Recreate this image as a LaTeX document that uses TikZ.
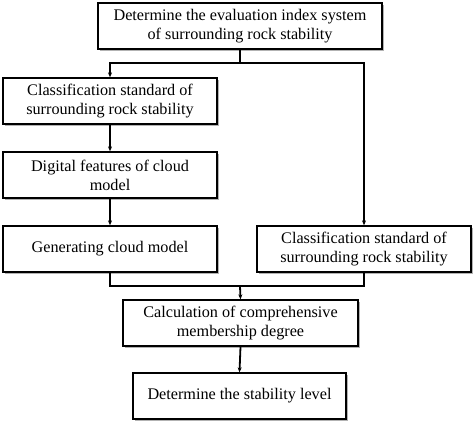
\documentclass[tikz,border=0pt]{standalone}
\usepackage{fontspec}
\setmainfont{Liberation Serif}
\usetikzlibrary{arrows.meta,shadows}
\begin{document}
\begin{tikzpicture}[x=1pt,y=-1pt,
  box/.style={draw=black,line width=1.3pt,fill=white,align=center,
    minimum height=46pt,inner sep=0pt,font=\fontsize{16.2}{19}\selectfont,
    drop shadow={shadow xshift=2pt,shadow yshift=-2pt,fill=black!30,opacity=1}},
  conn/.style={line width=1.8pt,-{Stealth[length=5pt,width=4pt]}},
  line/.style={line width=1.8pt}]
\useasboundingbox (0,0) rectangle (474,423);
\node[box,minimum width=284pt] (top) at (240,26) {Determine the evaluation index system\\of surrounding rock stability};
\node[box,minimum width=214pt] (b1) at (110,101) {Classification standard of\\surrounding rock stability};
\node[box,minimum width=214pt] (b2) at (110,175) {Digital features of cloud\\model};
\node[box,minimum width=214pt] (b3) at (110,249) {Generating cloud model};
\node[box,minimum width=214pt] (r) at (364,249) {Classification standard of\\surrounding rock stability};
\node[box,minimum width=235pt] (calc) at (240.5,323) {Calculation of comprehensive\\membership degree};
\node[box,minimum width=213pt] (bot) at (239.5,396) {Determine the stability level};
\coordinate (j1) at (240,63);
\coordinate (j2) at (240,286);
\draw[line] (top.south) -- (j1);
\draw[conn] (j1) -| (b1.north);
\draw[conn] (j1) -| (r.north);
\draw[conn] (b1.south) -- (b2.north);
\draw[conn] (b2.south) -- (b3.north);
\draw[line] (b3.south) |- (j2);
\draw[line] (r.south) |- (j2);
\draw[conn] (j2) -- (calc.north);
\draw[conn] (calc.south) -- (bot.north);
\end{tikzpicture}
\end{document}
